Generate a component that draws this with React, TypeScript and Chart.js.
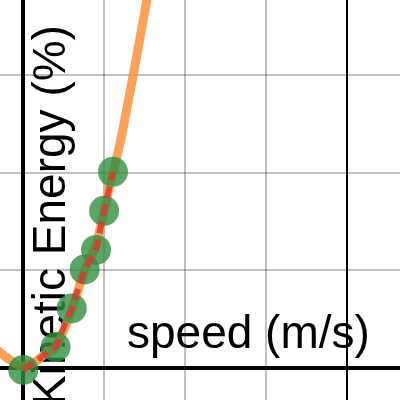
import React, { useEffect, useRef } from 'react';
import { Chart, registerables } from 'chart.js';

Chart.register(...registerables);

// measured points (speed in m/s, kinetic energy in %)
const speedPoints = [0, 0.4, 0.6, 0.76, 0.9, 1.0, 1.11];
const energyPoints = [-0.4, 4.3, 12.2, 20.2, 24.2, 32.2, 40.2];

// fitted curve
const curveSpeed = [-0.32, -0.16, -0.02, 0.145, 0.27, 0.4, 0.6, 0.76, 0.91, 1.0, 1.11, 1.18, 1.36, 1.53, 1.58];
const curveEnergy = [3.6, 1.6, 0.4, 1.2, 2.9, 4.3, 11.9, 20.1, 25.8, 32.2, 40.2, 44.7, 60.0, 75.4, 80.0];

const xGridTicks = [0, 1, 2, 3, 4];
const yGridTicks = [0, 20, 40, 60];

const xAxisLabel = 'speed (m/s)';
const yAxisLabel = 'Kinetic Energy (%)';

const FONT = '46px "Liberation Sans", Arial, sans-serif';

// axis labels sit under the data, like the reference
const labelPlugin = {
    id: 'axisLabels',
    beforeDatasetsDraw(chart: Chart) {
        const ctx = chart.ctx;
        ctx.save();
        ctx.font = FONT;
        ctx.fillStyle = '#000';
        ctx.textAlign = 'left';
        ctx.textBaseline = 'alphabetic';
        ctx.fillText(xAxisLabel, 127, 348);
        ctx.translate(65, 406);
        ctx.rotate(-Math.PI / 2);
        ctx.fillText(yAxisLabel, 0, 0);
        ctx.restore();
    }
};

const toXY = (xs: number[], ys: number[]) => xs.map((x, i) => ({ x, y: ys[i] }));

export default function App() {
    const chartRef = useRef<HTMLCanvasElement | null>(null);

    useEffect(() => {
        let chartInstance: Chart | null = null;
        if (chartRef.current) {
            chartInstance = new Chart(chartRef.current, {
                type: 'scatter',
                data: {
                    datasets: [
                        {
                            label: 'dashed',
                            data: toXY(speedPoints, energyPoints),
                            showLine: true,
                            borderColor: 'rgba(214, 62, 50, 0.85)',
                            borderWidth: 6,
                            borderDash: [12, 6],
                            pointRadius: 0,
                            tension: 0,
                            order: 0
                        },
                        {
                            label: 'points',
                            data: toXY(speedPoints, energyPoints),
                            showLine: false,
                            backgroundColor: 'rgba(50, 142, 64, 0.8)',
                            borderWidth: 0,
                            pointRadius: 15,
                            order: 1
                        },
                        {
                            label: 'curve',
                            data: toXY(curveSpeed, curveEnergy),
                            showLine: true,
                            borderColor: 'rgba(250, 152, 72, 0.9)',
                            borderWidth: 9,
                            pointRadius: 0,
                            cubicInterpolationMode: 'monotone',
                            order: 2
                        }
                    ]
                },
                options: {
                    responsive: false,
                    animation: false,
                    layout: { padding: 0, autoPadding: false },
                    plugins: { legend: { display: false }, tooltip: { enabled: false } },
                    scales: {
                        x: {
                            type: 'linear',
                            min: -0.288,
                            max: 4.662,
                            afterBuildTicks: (scale: any) => { scale.ticks = xGridTicks.map(v => ({ value: v })); },
                            ticks: { display: false },
                            border: { display: false },
                            grid: {
                                drawTicks: false,
                                color: (c: any) => (c.tick.value === 0 || c.tick.value === 4 ? '#000' : 'rgba(0,0,0,0.25)'),
                                lineWidth: (c: any) => (c.tick.value === 0 ? 4 : 2)
                            }
                        },
                        y: {
                            type: 'linear',
                            min: -6.56,
                            max: 75.4,
                            afterBuildTicks: (scale: any) => { scale.ticks = yGridTicks.map(v => ({ value: v })); },
                            ticks: { display: false },
                            border: { display: false },
                            grid: {
                                drawTicks: false,
                                color: (c: any) => (c.tick.value === 0 ? '#000' : 'rgba(0,0,0,0.25)'),
                                lineWidth: (c: any) => (c.tick.value === 0 ? 4 : 2)
                            }
                        }
                    }
                },
                plugins: [labelPlugin]
            });
        }
        return () => {
            if (chartInstance) chartInstance.destroy();
        };
    }, []);

    return (
        <div style={{ position: 'fixed', top: 0, left: 0, width: 400, height: 400, background: '#fff' }}>
            <canvas ref={chartRef} width={400} height={400}></canvas>
        </div>
    );
}
